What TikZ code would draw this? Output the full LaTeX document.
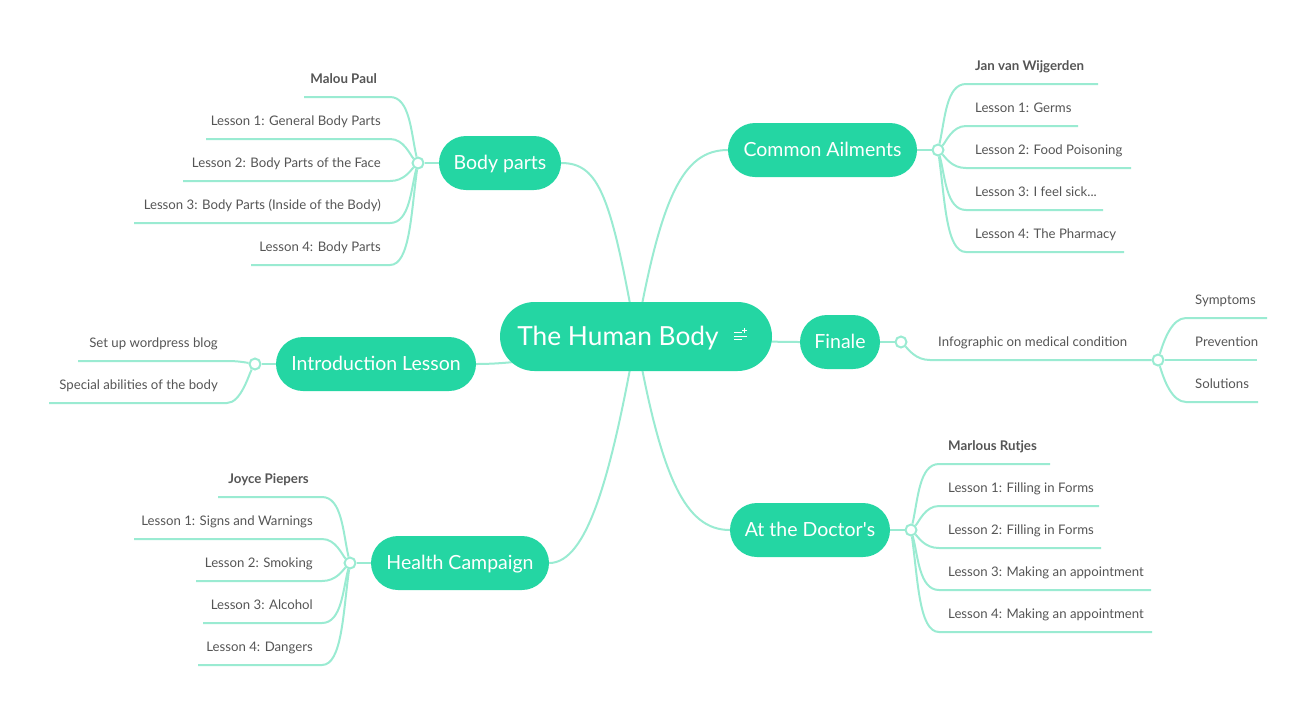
\documentclass[tikz,border=0pt]{standalone}
\usepackage{fontspec}
\setmainfont{Lato}
\usetikzlibrary{shapes.misc,backgrounds}
\definecolor{topicgreen}{HTML}{24D6A3}
\definecolor{branchgreen}{HTML}{9AEBD2}
\definecolor{leafgrey}{HTML}{555555}
\tikzset{
  rootnode/.style={rounded rectangle,fill=topicgreen,text=white,inner sep=0pt,minimum width=272pt,minimum height=69pt,text height=22pt,text depth=5pt,font=\fontsize{26.3}{30}\selectfont},
  mainnode/.style={rounded rectangle,fill=topicgreen,text=white,inner sep=0pt,minimum height=54pt,text height=16pt,text depth=4pt,font=\fontsize{19.5}{23}\selectfont},
  joint/.style={circle,draw=branchgreen,fill=white,line width=2pt,inner sep=0pt,minimum size=11pt},
  branch/.style={draw=branchgreen,line width=2pt,line join=round},
  leafl/.style={anchor=base east,yshift=-5pt,inner sep=0pt,text=leafgrey,font=\fontsize{13.2}{16}\selectfont},
  leafr/.style={anchor=base west,yshift=-5pt,inner sep=0pt,text=leafgrey,font=\fontsize{13.2}{16}\selectfont},
  bold/.style={font=\fontsize{13.3}{16}\selectfont\bfseries},
  icon/.style={white,line width=1.3pt}
}
\begin{document}
\begin{tikzpicture}[x=1pt,y=-1pt]
\useasboundingbox (0,0) rectangle (1316,713);
% topics
\node [rootnode] (root) at (636,336.5) {The Human Body\hspace{36pt}\mbox{}};
\node [mainnode,minimum width=122pt] (body) at (500,163) {Body parts};
\node [mainnode,minimum width=189pt] (ailments) at (822.5,150) {Common Ailments};
\node [mainnode,minimum width=80pt] (finale) at (840,342) {Finale};
\node [mainnode,minimum width=160pt] (doctor) at (810,530) {At the Doctor\textquotesingle s};
\node [mainnode,minimum width=178pt] (health) at (460,563) {Health Campaign};
\node [mainnode,minimum width=200pt] (intro) at (376,364) {Introduction Lesson};
% icon in the root
\draw [icon] (734,332.7) -- (741.5,332.7);
\draw [icon] (734,336.2) -- (746.7,336.2);
\draw [icon] (734,339.7) -- (742,339.7);
\draw [icon] (742,330.7) -- (747,330.7);
\draw [icon] (744.5,328.2) -- (744.5,333.2);
% joints
\node [joint] (jbody) at (418,163) {};
\node [joint] (jailments) at (938,150) {};
\node [joint] (jfinale) at (901,342) {};
\node [joint] (jinfo) at (1158,360) {};
\node [joint] (jdoctor) at (911,530) {};
\node [joint] (jhealth) at (350,563) {};
\node [joint] (jintro) at (255,364) {};
% body parts
\node [leafl,bold] (b0) at (377,78) {Malou Paul};
\node [leafl] (b1) at (381,120) {Lesson 1: General Body Parts};
\node [leafl] (b2) at (381,162) {Lesson 2: Body Parts of the Face};
\node [leafl] (b3) at (381,204) {Lesson 3: Body Parts (Inside of the Body)};
\node [leafl] (b4) at (381,246) {Lesson 4: Body Parts};
\coordinate (b0s) at (390,97); \coordinate (b0e) at (304,97);
\coordinate (b1s) at (390,139); \coordinate (b1e) at (206,139);
\coordinate (b2s) at (390,181); \coordinate (b2e) at (183,181);
\coordinate (b3s) at (390,223); \coordinate (b3e) at (134,223);
\coordinate (b4s) at (390,265); \coordinate (b4e) at (251,265);
% common ailments
\node [leafr,bold] (c0) at (975,65) {Jan van Wijgerden};
\node [leafr] (c1) at (975,107) {Lesson 1: Germs};
\node [leafr] (c2) at (975,149) {Lesson 2: Food Poisoning};
\node [leafr] (c3) at (975,191) {Lesson 3: I feel sick...};
\node [leafr] (c4) at (975,233) {Lesson 4: The Pharmacy};
\coordinate (c0s) at (966,84); \coordinate (c0e) at (1098,84);
\coordinate (c1s) at (966,126); \coordinate (c1e) at (1078,126);
\coordinate (c2s) at (966,168); \coordinate (c2e) at (1131,168);
\coordinate (c3s) at (966,210); \coordinate (c3e) at (1103,210);
\coordinate (c4s) at (966,252); \coordinate (c4e) at (1124,252);
% finale
\node [leafr] (f0) at (938,341) {Infographic on medical condition};
\node [leafr] (f1) at (1195,299) {Symptoms};
\node [leafr] (f2) at (1195,341) {Prevention};
\node [leafr] (f3) at (1195,383) {Solutions};
\coordinate (f0s) at (930,360);
\coordinate (f1s) at (1186,318); \coordinate (f1e) at (1267,318);
\coordinate (f2e) at (1257,360);
\coordinate (f3s) at (1186,402); \coordinate (f3e) at (1258,402);
% at the doctor's
\node [leafr,bold] (d0) at (948,445) {Marlous Rutjes};
\node [leafr] (d1) at (948,487) {Lesson 1: Filling in Forms};
\node [leafr] (d2) at (948,529) {Lesson 2: Filling in Forms};
\node [leafr] (d3) at (948,571) {Lesson 3: Making an appointment};
\node [leafr] (d4) at (948,613) {Lesson 4: Making an appointment};
\coordinate (d0s) at (939,464); \coordinate (d0e) at (1050,464);
\coordinate (d1s) at (939,506); \coordinate (d1e) at (1099,506);
\coordinate (d2s) at (939,548); \coordinate (d2e) at (1101,548);
\coordinate (d3s) at (939,590); \coordinate (d3e) at (1151,590);
\coordinate (d4s) at (939,632); \coordinate (d4e) at (1152,632);
% health campaign
\node [leafl,bold] (h0) at (309,478) {Joyce Piepers};
\node [leafl] (h1) at (313,520) {Lesson 1: Signs and Warnings};
\node [leafl] (h2) at (313,562) {Lesson 2: Smoking};
\node [leafl] (h3) at (313,604) {Lesson 3: Alcohol};
\node [leafl] (h4) at (313,646) {Lesson 4: Dangers};
\coordinate (h0s) at (322,497); \coordinate (h0e) at (218,497);
\coordinate (h1s) at (322,539); \coordinate (h1e) at (134,539);
\coordinate (h2s) at (322,581); \coordinate (h2e) at (196,581);
\coordinate (h3s) at (322,623); \coordinate (h3e) at (203,623);
\coordinate (h4s) at (322,665); \coordinate (h4e) at (198,665);
% introduction
\node [leafl] (i0) at (218,342) {Set up wordpress blog};
\node [leafl] (i1) at (218,384) {Special abilities of the body};
\coordinate (i0s) at (227,361); \coordinate (i0e) at (78,361);
\coordinate (i1s) at (227,403); \coordinate (i1e) at (49,403);
\begin{pgfonlayer}{background}
% root to topics
\draw [branch] (root.center) .. controls +(-25,-140) and +(38,0) .. (body.east);
\draw [branch] (root.center) .. controls +(25,-140) and +(-45,0) .. (ailments.west);
\draw [branch] (root.center) .. controls +(25,140) and +(-45,0) .. (doctor.west);
\draw [branch] (root.center) .. controls +(-25,140) and +(38,0) .. (health.east);
\draw [branch] (root.center) .. controls +(-70,20) and +(40,0) .. (intro.east);
\draw [branch] (root.center) .. controls +(70,4) and +(-20,0) .. (finale.west);
% topics to joints
\draw [branch] (body.west) -- (jbody);
\draw [branch] (ailments.east) -- (jailments);
\draw [branch] (finale.east) -- (jfinale);
\draw [branch] (doctor.east) -- (jdoctor);
\draw [branch] (health.west) -- (jhealth);
\draw [branch] (intro.west) -- (jintro);
% body parts
\draw [branch] (jbody) .. controls +(-7,-30) and +(20,0) .. (b0s) -- (b0e);
\draw [branch] (jbody) .. controls +(-8,-8) and +(14,0) .. (b1s) -- (b1e);
\draw [branch] (jbody) .. controls +(-8,8) and +(14,0) .. (b2s) -- (b2e);
\draw [branch] (jbody) .. controls +(-7,25) and +(20,0) .. (b3s) -- (b3e);
\draw [branch] (jbody) .. controls +(-7,50) and +(20,0) .. (b4s) -- (b4e);
% common ailments
\draw [branch] (jailments) .. controls +(7,-30) and +(-20,0) .. (c0s) -- (c0e);
\draw [branch] (jailments) .. controls +(8,-8) and +(-14,0) .. (c1s) -- (c1e);
\draw [branch] (jailments) .. controls +(8,8) and +(-14,0) .. (c2s) -- (c2e);
\draw [branch] (jailments) .. controls +(7,25) and +(-20,0) .. (c3s) -- (c3e);
\draw [branch] (jailments) .. controls +(7,50) and +(-20,0) .. (c4s) -- (c4e);
% finale
\draw [branch] (jfinale) .. controls +(8,8) and +(-14,0) .. (f0s) -- (jinfo);
\draw [branch] (jinfo) .. controls +(6,-20) and +(-14,0) .. (f1s) -- (f1e);
\draw [branch] (jinfo) -- (f2e);
\draw [branch] (jinfo) .. controls +(6,20) and +(-14,0) .. (f3s) -- (f3e);
% at the doctor's
\draw [branch] (jdoctor) .. controls +(7,-30) and +(-20,0) .. (d0s) -- (d0e);
\draw [branch] (jdoctor) .. controls +(8,-8) and +(-14,0) .. (d1s) -- (d1e);
\draw [branch] (jdoctor) .. controls +(8,8) and +(-14,0) .. (d2s) -- (d2e);
\draw [branch] (jdoctor) .. controls +(7,25) and +(-20,0) .. (d3s) -- (d3e);
\draw [branch] (jdoctor) .. controls +(7,50) and +(-20,0) .. (d4s) -- (d4e);
% health campaign
\draw [branch] (jhealth) .. controls +(-7,-30) and +(20,0) .. (h0s) -- (h0e);
\draw [branch] (jhealth) .. controls +(-8,-8) and +(14,0) .. (h1s) -- (h1e);
\draw [branch] (jhealth) .. controls +(-8,8) and +(14,0) .. (h2s) -- (h2e);
\draw [branch] (jhealth) .. controls +(-7,25) and +(20,0) .. (h3s) -- (h3e);
\draw [branch] (jhealth) .. controls +(-7,50) and +(20,0) .. (h4s) -- (h4e);
% introduction
\draw [branch] (jintro) .. controls +(-12,-2) and +(10,0) .. (i0s) -- (i0e);
\draw [branch] (jintro) .. controls +(-6,10) and +(14,0) .. (i1s) -- (i1e);
\end{pgfonlayer}
\end{tikzpicture}
\end{document}
